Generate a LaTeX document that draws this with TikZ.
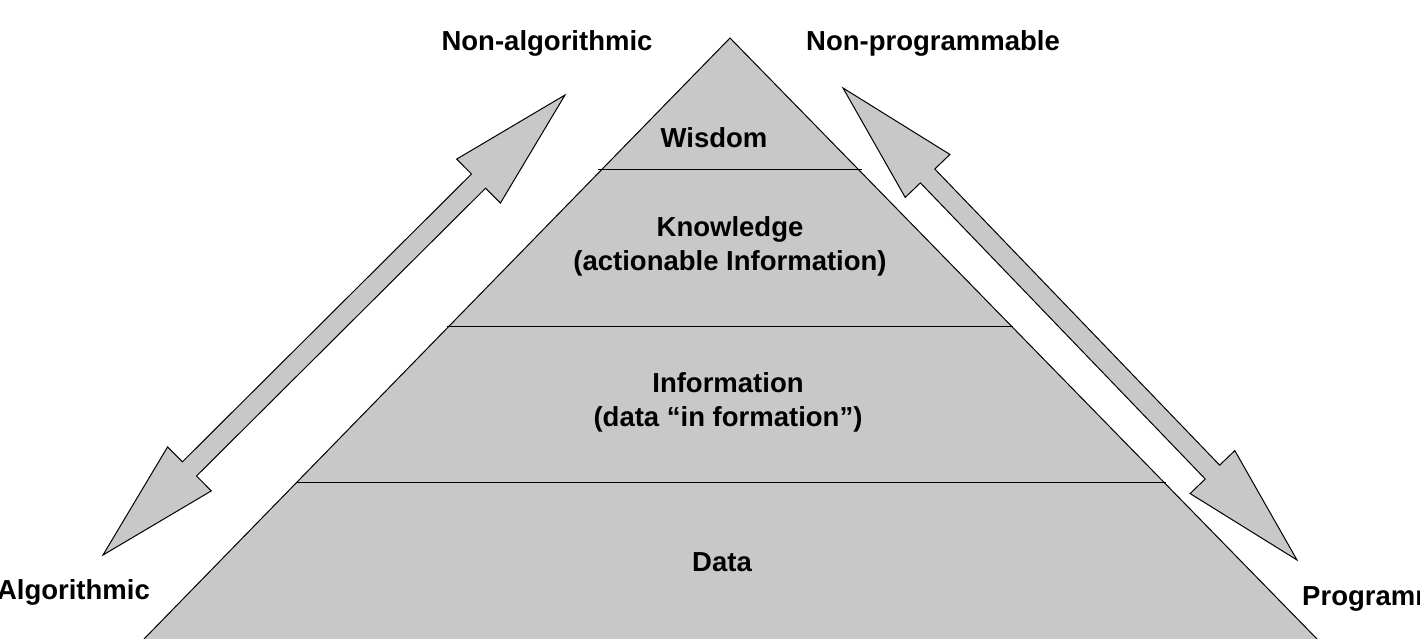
\documentclass[tikz,border=0pt]{standalone}
\usepackage{fontspec}
\setmainfont{Liberation Sans}
\usetikzlibrary{calc}
\definecolor{pg}{HTML}{C8C8C8}
\tikzset{lbl/.style={font=\fontsize{27.5}{34}\selectfont\bfseries, align=center, inner sep=0pt},
 grayshape/.style={draw=black, fill=pg, line width=1pt, line join=miter}}
\newcommand\dblarrow[2]{%
 \path ($(#1)!122pt!(#2)$) coordinate (h1) ($(#2)!122pt!(#1)$) coordinate (h2);
 \draw[grayshape] (#1) -- ($(h1)!31pt!90:(#2)$) -- ($(h1)!10pt!90:(#2)$) -- ($(h2)!10pt!-90:(#1)$) -- ($(h2)!31pt!-90:(#1)$) -- (#2)
   -- ($(h2)!31pt!90:(#1)$) -- ($(h2)!10pt!90:(#1)$) -- ($(h1)!10pt!-90:(#2)$) -- ($(h1)!31pt!-90:(#2)$) -- cycle;}
\begin{document}
\begin{tikzpicture}[x=1pt,y=-1pt]
\useasboundingbox (0,0) rectangle (1420,639);
\clip (0,0) rectangle (1420,639);
\coordinate (apex) at (730,38);
\coordinate (bl) at (143,640);
\coordinate (br) at (1318,640);
\draw[grayshape] (apex) -- (br) -- (bl) -- cycle;
\draw[line width=1pt] (598,170) -- (862,170) (447,326) -- (1013,326) (296,482) -- (1166,482);
\coordinate (la) at (565,95); \coordinate (lb) at (103,555);
\coordinate (ra) at (843,88); \coordinate (rb) at (1297,560);
\dblarrow{la}{lb}
\dblarrow{ra}{rb}
\node[lbl] (w) at (714,138) {Wisdom};
\node[lbl] (k) at (730,246) {Knowledge\\(actionable Information)};
\node[lbl] (i) at (728,402) {Information\\(data “in formation”)};
\node[lbl] (d) at (722,562) {Data};
\node[lbl] (na) at (547,43) {Non-algorithmic};
\node[lbl] (np) at (933,43) {Non-programmable};
\node[lbl, anchor=east] (al) at (150,592) {Algorithmic};
\node[lbl, anchor=west] (pr) at (1302,598) {Programmable};
\end{tikzpicture}
\end{document}
